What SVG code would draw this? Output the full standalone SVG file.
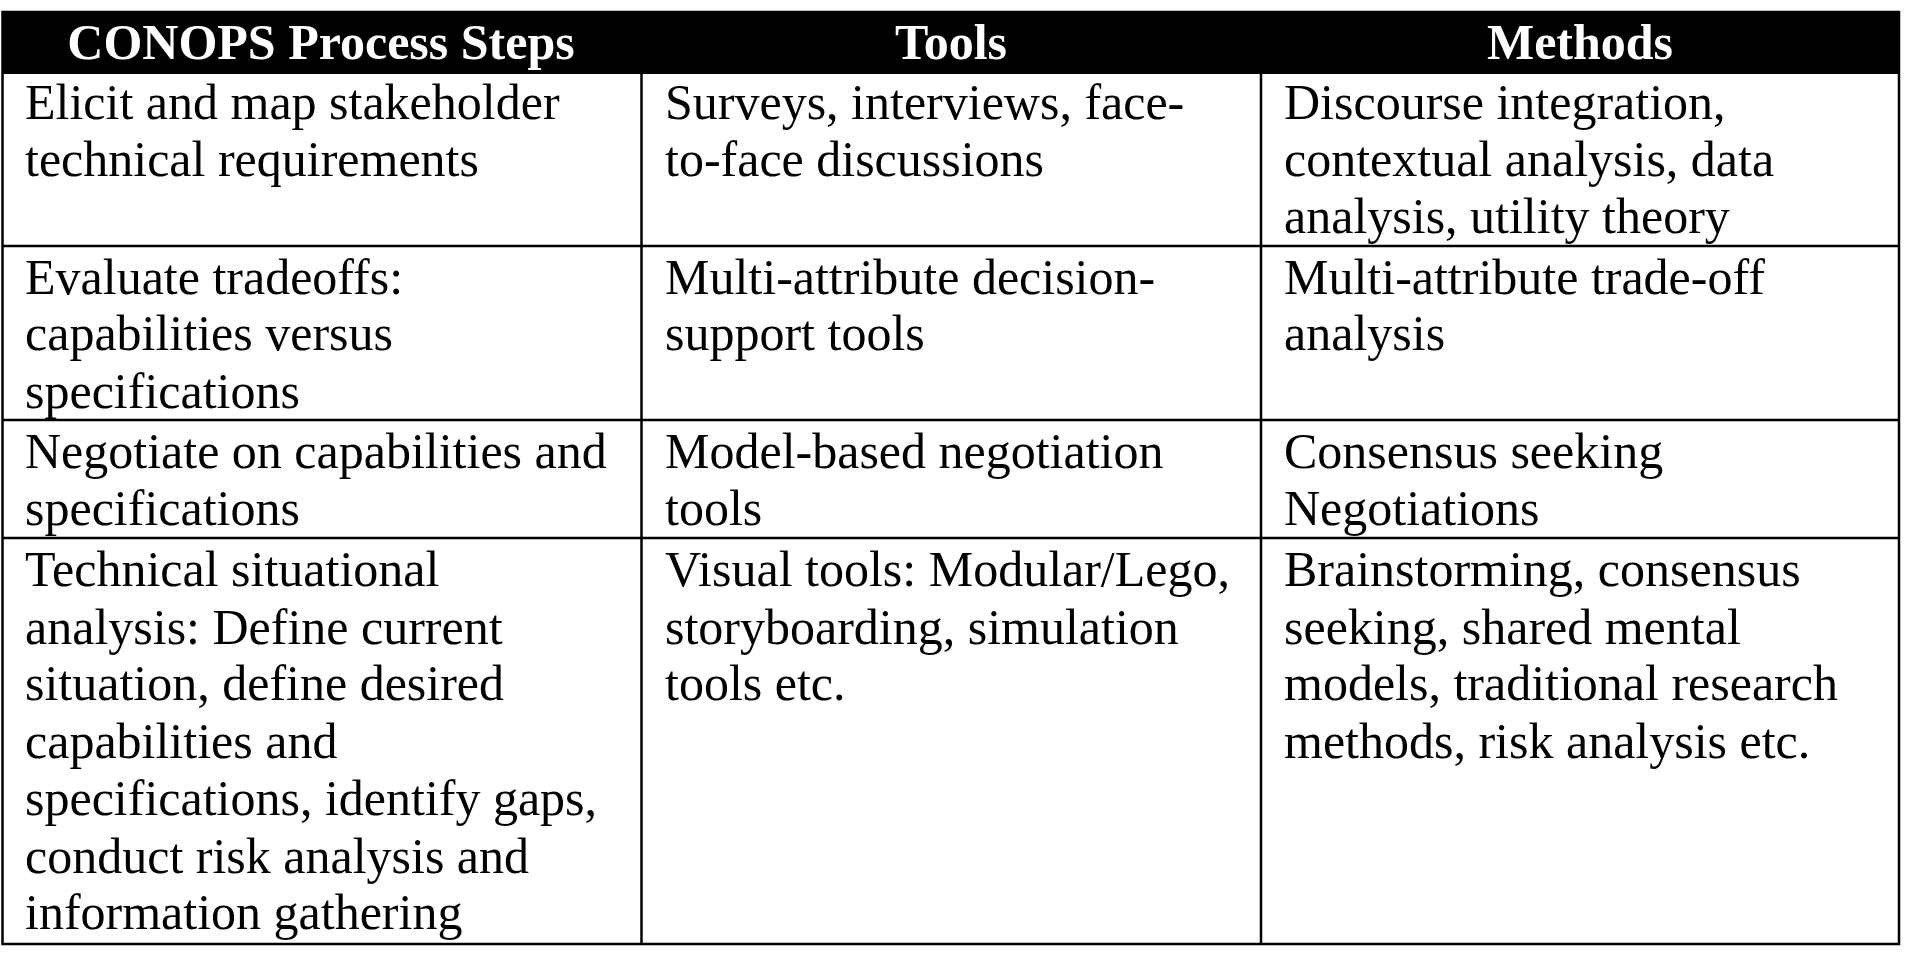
<svg xmlns="http://www.w3.org/2000/svg" width="1925" height="965" viewBox="0 0 1925 965">
<style>
.t{font-family:"Liberation Serif","Times New Roman",serif;font-size:50px;fill:#000}
.h{font-family:"Liberation Serif","Times New Roman",serif;font-size:50px;font-weight:bold;fill:#fff;text-anchor:middle}
.l{stroke:#000;stroke-width:2.5;fill:none}
</style>
<rect width="1925" height="965" fill="#fff"/>
<g id="grid">
<rect x="2.5" y="12" width="1896.5" height="62" fill="#000"/>
<rect class="l" x="2.5" y="12" width="1896.5" height="932"/>
<line class="l" x1="2.5" y1="246" x2="1899" y2="246"/>
<line class="l" x1="2.5" y1="420" x2="1899" y2="420"/>
<line class="l" x1="2.5" y1="538" x2="1899" y2="538"/>
<line class="l" x1="641.5" y1="74" x2="641.5" y2="944"/>
<line class="l" x1="1261" y1="74" x2="1261" y2="944"/>
</g>
<g id="header">
<text class="h" x="321" y="59">CONOPS Process Steps</text>
<text class="h" x="951" y="59">Tools</text>
<text class="h" x="1580" y="59">Methods</text>
</g>
<g id="row1">
<text class="t" x="25" y="119">Elicit and map stakeholder</text>
<text class="t" x="25" y="176">technical requirements</text>
<text class="t" x="665" y="119">Surveys, interviews, face-</text>
<text class="t" x="665" y="176">to-face discussions</text>
<text class="t" x="1284" y="119">Discourse integration,</text>
<text class="t" x="1284" y="176">contextual analysis, data</text>
<text class="t" x="1284" y="233">analysis, utility theory</text>
</g>
<g id="row2">
<text class="t" x="25" y="294">Evaluate tradeoffs:</text>
<text class="t" x="25" y="350">capabilities versus</text>
<text class="t" x="25" y="408">specifications</text>
<text class="t" x="665" y="294">Multi-attribute decision-</text>
<text class="t" x="665" y="350">support tools</text>
<text class="t" x="1284" y="294">Multi-attribute trade-off</text>
<text class="t" x="1284" y="350">analysis</text>
</g>
<g id="row3">
<text class="t" x="25" y="468">Negotiate on capabilities and</text>
<text class="t" x="25" y="525">specifications</text>
<text class="t" x="665" y="468">Model-based negotiation</text>
<text class="t" x="665" y="525">tools</text>
<text class="t" x="1284" y="468">Consensus seeking</text>
<text class="t" x="1284" y="525">Negotiations</text>
</g>
<g id="row4">
<text class="t" x="25" y="586">Technical situational</text>
<text class="t" x="25" y="644">analysis: Define current</text>
<text class="t" x="25" y="700">situation, define desired</text>
<text class="t" x="25" y="758">capabilities and</text>
<text class="t" x="25" y="815">specifications, identify gaps,</text>
<text class="t" x="25" y="873">conduct risk analysis and</text>
<text class="t" x="25" y="929">information gathering</text>
<text class="t" x="665" y="586">Visual tools: Modular/Lego,</text>
<text class="t" x="665" y="644">storyboarding, simulation</text>
<text class="t" x="665" y="700">tools etc.</text>
<text class="t" x="1284" y="586">Brainstorming, consensus</text>
<text class="t" x="1284" y="644">seeking, shared mental</text>
<text class="t" x="1284" y="700">models, traditional research</text>
<text class="t" x="1284" y="758">methods, risk analysis etc.</text>
</g>
</svg>
